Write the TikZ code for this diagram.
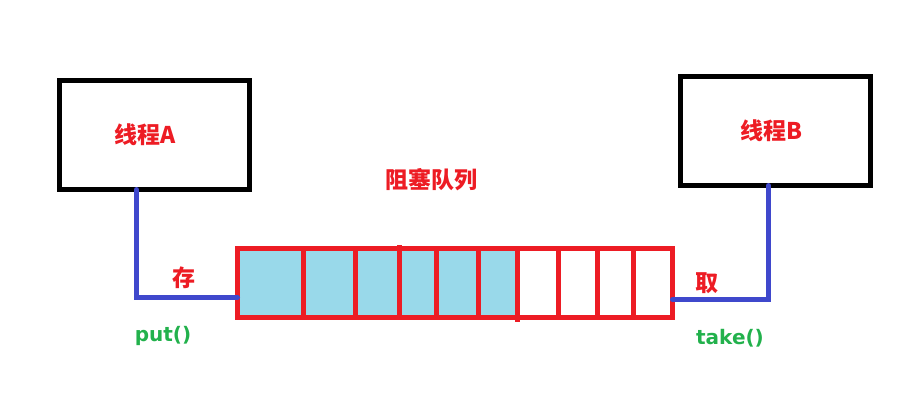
\documentclass[tikz,border=0pt]{standalone}
\usepackage{fontspec}
\newfontfamily\cjk{Noto Sans CJK SC}
\newfontfamily\latin{DejaVu Sans}
\usetikzlibrary{positioning}

\begin{document}
\begin{tikzpicture}[x=1pt,y=-1pt]
  % some colors
  \definecolor{qred}{RGB}{237,28,36}
  \definecolor{qblue}{RGB}{63,72,204}
  \definecolor{qgreen}{RGB}{34,177,76}
  \definecolor{qfill}{RGB}{153,217,234}
  % some styles
  \tikzset{
    thread/.style={
      rectangle,
      minimum width=190pt,
      minimum height=109pt,
      inner sep=0mm,
      outer sep=0mm,
      draw=black,
      line width=5pt,
    },
    title/.style={
      text=qred,
      font=\cjk\bfseries\fontsize{23}{23}\selectfont,
      inner sep=0mm,
    },
    call/.style={
      text=qgreen,
      font=\latin\bfseries\fontsize{20}{20}\selectfont,
      inner sep=0mm,
    },
    cell/.style={
      rectangle,
      minimum height=69pt,
      inner sep=0mm,
      outer sep=0mm,
      draw=qred,
      line width=5pt,
      fill=#1,
    },
    link/.style={qblue, line width=5pt, line cap=round},
  }
  \useasboundingbox (0,0) rectangle (920,412);
  % the two threads
  \node[thread] (threadA) at (154.5,135) {};
  \node[thread] (threadB) at (775.5,131) {};
  \node[title] (nameA) at (145,135) {线程A};
  \node[title] (nameB) at (771,131) {线程B};
  % the queue, filled cells first
  \foreach \l/\r [count=\i] in {237.5/303.5, 303.5/355.5, 355.5/399.5,
      399.5/436.5, 436.5/478.5, 478.5/517.5, 517.5/558.5, 558.5/597.5,
      597.5/633.5, 633.5/672.5} {
    \pgfmathsetmacro{\w}{\r-\l}
    \pgfmathsetmacro{\m}{(\l+\r)/2}
    \ifnum \i<7
      \node[cell=qfill, minimum width=\w pt] (c-\i) at (\m,283) {};
    \else
      \node[cell=white, minimum width=\w pt] (c-\i) at (\m,283) {};
    \fi
  }
  % small overshoots of the hand drawn dividers
  \draw[qred, line width=5pt] (c-3.north east) -- ++(0,-4);
  \draw[qred, line width=5pt] (c-6.south east) -- ++(0,4);
  \draw[qred, line width=5pt] (c-8.north east) -- ++(0,-3);
  \node[title] (queue) at (431,180) {阻塞队列};
  % put and take
  \coordinate (put-corner) at (136.5,297.5);
  \coordinate (take-corner) at (768.5,299.5);
  \draw[link] (threadA.south -| put-corner) -- (put-corner) -- (c-1.west |- put-corner);
  \draw[link] (c-10.east |- take-corner) -- (take-corner) -- (threadB.south -| take-corner);
  \node[title] (store) at (184,278) {存};
  \node[title] (fetch) at (707,283) {取};
  \node[call] (put) at (163,336) {put()};
  \node[call] (take) at (730,338) {take()};
\end{tikzpicture}
\end{document}
